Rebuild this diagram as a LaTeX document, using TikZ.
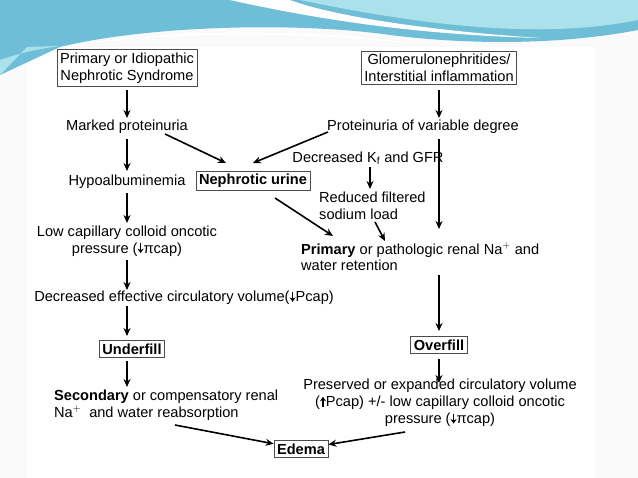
\documentclass[tikz,border=0pt]{standalone}
\usepackage{fontspec}
\setmainfont{Liberation Sans}
\usetikzlibrary{arrows.meta}
\definecolor{tealA}{RGB}{110,190,215}
\definecolor{tealB}{RGB}{170,225,235}
\newcommand{\dn}{\tikz[baseline=-1pt]\draw[line width=1.4pt,-{Stealth[length=4.5pt,width=6pt]}] (0,9pt)--(0,-1pt);}
\newcommand{\upa}{\tikz[baseline=-1pt]\draw[line width=1.4pt,-{Stealth[length=4.5pt,width=6pt]}] (0,-1pt)--(0,9pt);}
\begin{document}
\begin{tikzpicture}[x=1pt,y=-1pt,
  every node/.style={font=\fontsize{14.6}{16.8}\selectfont,inner sep=2pt,align=center},
  bx/.style={draw=black!70,line width=0.8pt,inner sep=3pt},
  ar/.style={line width=1.6pt,-{Stealth[length=8pt,width=7pt]}}]
\useasboundingbox (0,0) rectangle (638,478);
\fill[gray!4] (0,0) rectangle (638,478);
\fill[white] (27,47) rectangle (595,478);
% top swoosh
\fill[tealA] (0,0) -- (638,0) -- (638,30) .. controls (560,45) and (470,45) .. (390,35) .. controls (300,22) and (150,25) .. (60,47) -- (0,75) -- cycle;
\fill[tealB] (300,0) .. controls (420,25) and (540,40) .. (638,20) -- (638,0) -- cycle;
\fill[white] (230,0) .. controls (320,20) and (420,35) .. (540,38) .. controls (420,30) and (330,15) .. (290,0) -- cycle;
\draw[white,line width=1.5pt] (60,48) .. controls (150,30) and (300,30) .. (400,42);
\fill[tealB] (0,60) .. controls (15,55) and (30,50) .. (60,46) -- (27,47) -- (0,75) -- cycle;

\node[bx] (ps) at (127,68) {Primary or Idiopathic\\Nephrotic Syndrome};
\node[bx] (gn) at (439,68) {Glomerulonephritides/\\Interstitial inflammation};
\node (mp) at (127,127) {Marked proteinuria};
\node (pv) at (423,127) {Proteinuria of variable degree};
\node (df) at (368,158) {Decreased K$_{\mathrm f}$ and GFR};
\node (hy) at (127,182) {Hypoalbuminemia};
\node[bx] (nu) at (253,181) {\textbf{Nephrotic urine}};
\node[align=left,anchor=west] (rf) at (317,206) {Reduced filtered\\sodium load};
\node[align=left,anchor=west] (pr) at (299,257) {\textbf{Primary} or pathologic renal Na$^+$ and\\water retention};
\node (lc) at (127,241) {Low capillary colloid oncotic\\pressure (\dn πcap)};
\node (de) at (184,298) {Decreased effective circulatory volume(\dn Pcap)};
\node[bx] (uf) at (132,349) {\textbf{Underfill}};
\node[bx] (of) at (439,345) {\textbf{Overfill}};
\node[align=left,anchor=west] (se) at (52,405) {\textbf{Secondary} or compensatory renal\\Na$^+$ \ and water reabsorption};
\node (pe) at (440,403) {Preserved or expanded circulatory volume\\(\upa Pcap) +/- low capillary colloid oncotic\\pressure (\dn πcap)};
\node[bx] (ed) at (301,449) {\textbf{Edema}};

\draw[ar] (127,90) -- (127,118);
\draw[ar] (439,90) -- (439,118);
\draw[ar] (127,139) -- (127,171);
\draw[ar] (127,193) -- (127,223);
\draw[ar] (127,260) -- (127,290);
\draw[ar] (127,306) -- (127,336);
\draw[ar] (127,361) -- (127,387);
\draw[ar] (165,134) -- (226,163);
\draw[ar] (328,132) -- (253,163);
\draw[ar] (370,167) -- (370,189);
\draw[ar] (439,139) -- (439,229);
\draw[ar] (275,198) -- (333,236);
\draw[ar] (375,222) -- (385,241);
\draw[ar] (439,275) -- (439,331);
\draw[ar] (439,359) -- (439,383);
\draw[ar] (175,425) -- (ed);
\draw[ar] (405,432) -- (ed);
\end{tikzpicture}
\end{document}
